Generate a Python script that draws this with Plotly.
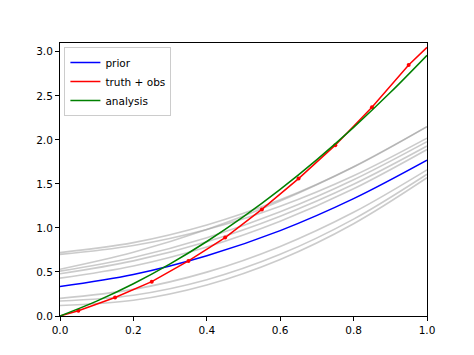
import plotly.graph_objects as go

# ---- data ----
x_grid = [0.0, 0.2, 0.4, 0.6, 0.8, 1.0]

ensemble = [
    [0.72, 0.833, 1.033, 1.319, 1.691, 2.15],
    [0.70, 0.801, 0.983, 1.247, 1.593, 2.02],
    [0.53, 0.723, 0.981, 1.305, 1.695, 2.15],
    [0.51, 0.665, 0.889, 1.183, 1.547, 1.98],
    [0.48, 0.626, 0.844, 1.134, 1.496, 1.93],
    [0.43, 0.568, 0.784, 1.076, 1.444, 1.89],
    [0.20, 0.302, 0.498, 0.790, 1.178, 1.66],
    [0.17, 0.236, 0.412, 0.700, 1.100, 1.61],
    [0.12, 0.178, 0.352, 0.642, 1.048, 1.57],
]

prior = [0.335, 0.472, 0.685, 0.970, 1.333, 1.77]

x_fine = [0.0, 0.1, 0.2, 0.3, 0.4, 0.5, 0.6, 0.7, 0.8, 0.9, 1.0]
analysis = [0.0, 0.169, 0.366, 0.592, 0.846, 1.128, 1.438, 1.776, 2.142, 2.537, 2.96]

truth_x = [0.0, 0.05, 0.15, 0.25, 0.35, 0.45, 0.55, 0.65, 0.75, 0.85, 0.95, 1.0]
truth_y = [0.0, 0.06, 0.21, 0.39, 0.625, 0.89, 1.21, 1.56, 1.94, 2.37, 2.85, 3.05]

obs_x = [0.05, 0.15, 0.25, 0.35, 0.45, 0.55, 0.65, 0.75, 0.85, 0.95]
obs_y = [0.06, 0.21, 0.39, 0.625, 0.89, 1.21, 1.56, 1.94, 2.37, 2.85]

x_ticks = [0.0, 0.2, 0.4, 0.6, 0.8, 1.0]
y_ticks = [0.0, 0.5, 1.0, 1.5, 2.0, 2.5, 3.0]

# ---- figure ----
fig = go.Figure()

for member in ensemble:
    fig.add_trace(go.Scatter(
        x=x_grid, y=member, mode="lines", line_shape="spline",
        line=dict(color="rgba(160,160,160,0.55)", width=1.6),
        showlegend=False, hoverinfo="skip"))

fig.add_trace(go.Scatter(
    x=x_grid, y=prior, mode="lines", line_shape="spline", name="prior",
    line=dict(color="#0000ff", width=1.5), legendrank=1))

fig.add_trace(go.Scatter(
    x=truth_x, y=truth_y, mode="lines", name="truth + obs",
    line=dict(color="#ff0000", width=1.5), legendrank=2))

fig.add_trace(go.Scatter(
    x=obs_x, y=obs_y, mode="markers", showlegend=False,
    marker=dict(color="#ff0000", size=4)))

fig.add_trace(go.Scatter(
    x=x_fine, y=analysis, mode="lines", line_shape="spline", name="analysis",
    line=dict(color="#008000", width=1.5), legendrank=3))

axis_common = dict(
    showgrid=False, zeroline=False, showline=True, mirror=True,
    linecolor="black", linewidth=1, ticks="outside", ticklen=4,
    tickcolor="black", tickwidth=1,
    tickfont=dict(size=10.5, color="black"),
    tickformat=".1f")

fig.update_xaxes(range=[0, 1], tickvals=x_ticks, **axis_common)
fig.update_yaxes(range=[0, 3.1], tickvals=y_ticks, **axis_common)

fig.update_layout(
    width=474, height=355,
    margin=dict(l=52, r=55, t=35, b=47),
    paper_bgcolor="white", plot_bgcolor="white",
    font=dict(family="DejaVu Sans", size=10, color="black"),
    legend=dict(x=0.012, y=0.985, xanchor="left", yanchor="top",
                bgcolor="rgba(255,255,255,0.8)", bordercolor="#cccccc",
                borderwidth=1, font=dict(size=10.5), itemwidth=30,
                tracegroupgap=0),
)

fig.write_html("out.html")
